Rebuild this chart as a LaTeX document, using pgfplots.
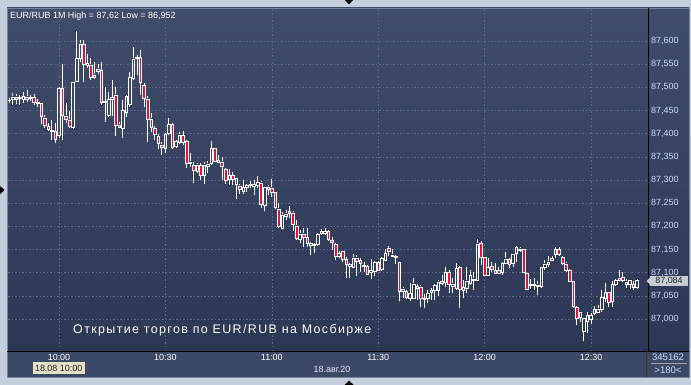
\documentclass[border=0pt]{standalone}
\usepackage{fontspec}
\setmainfont{Liberation Sans}
\usepackage{pgfplots}
\pgfplotsset{compat=1.18}
\usepackage{pgfplotstable}
\definecolor{framec}{RGB}{196,207,222}
\definecolor{bgtop}{RGB}{64,77,106}
\definecolor{bgbot}{RGB}{44,55,84}
\definecolor{stripc}{RGB}{60,73,101}
\definecolor{gridc}{RGB}{88,104,136}
\definecolor{cred}{RGB}{226,18,60}
\definecolor{ylab}{RGB}{200,220,248}
\definecolor{tagc}{RGB}{200,204,212}
\definecolor{datebox}{RGB}{228,224,196}
\definecolor{panelb}{RGB}{120,134,158}

\pgfplotstableread{
m o h l c
-14 87.470 87.476 87.466 87.472
-13 87.473 87.487 87.462 87.481
-12 87.481 87.485 87.463 87.473
-11 87.475 87.484 87.462 87.480
-10 87.473 87.489 87.466 87.482
-9 87.481 87.494 87.469 87.475
-8 87.475 87.484 87.471 87.480
-7 87.480 87.485 87.462 87.468
-6 87.465 87.475 87.458 87.469
-5 87.466 87.466 87.420 87.437
-4 87.435 87.440 87.413 87.417
-3 87.417 87.422 87.406 87.409
-2 87.404 87.430 87.386 87.408
-1 87.406 87.422 87.379 87.388
0 87.395 87.501 87.390 87.500
1 87.498 87.550 87.386 87.439
2 87.440 87.466 87.422 87.431
3 87.431 87.448 87.412 87.415
4 87.413 87.512 87.410 87.512
5 87.512 87.621 87.512 87.563
6 87.563 87.602 87.555 87.595
7 87.593 87.602 87.512 87.548
8 87.547 87.573 87.541 87.552
9 87.550 87.563 87.516 87.522
10 87.522 87.555 87.519 87.528
11 87.534 87.550 87.528 87.541
12 87.537 87.555 87.462 87.467
13 87.467 87.501 87.426 87.471
14 87.440 87.491 87.437 87.475
15 87.473 87.516 87.439 87.480
16 87.485 87.501 87.394 87.417
17 87.421 87.425 87.412 87.414
18 87.412 87.473 87.390 87.451
19 87.446 87.484 87.437 87.481
20 87.462 87.534 87.458 87.523
21 87.519 87.588 87.516 87.563
22 87.563 87.570 87.527 87.566
23 87.565 87.581 87.484 87.509
24 87.505 87.509 87.458 87.476
25 87.476 87.481 87.383 87.431
26 87.433 87.444 87.404 87.414
27 87.412 87.417 87.386 87.399
28 87.395 87.399 87.367 87.379
29 87.377 87.383 87.354 87.372
30 87.368 87.401 87.358 87.399
31 87.401 87.433 87.397 87.421
32 87.420 87.424 87.367 87.370
33 87.372 87.386 87.368 87.384
34 87.381 87.403 87.377 87.399
35 87.397 87.406 87.376 87.381
36 87.384 87.386 87.325 87.336
37 87.336 87.358 87.329 87.340
38 87.333 87.338 87.293 87.320
39 87.318 87.336 87.315 87.334
40 87.333 87.336 87.300 87.311
41 87.311 87.338 87.291 87.334
42 87.329 87.340 87.315 87.336
43 87.336 87.384 87.333 87.368
44 87.368 87.370 87.338 87.340
45 87.338 87.354 87.336 87.343
46 87.340 87.350 87.300 87.329
47 87.324 87.325 87.291 87.300
48 87.300 87.324 87.289 87.311
49 87.311 87.318 87.289 87.300
50 87.291 87.305 87.258 87.304
51 87.289 87.292 87.269 87.279
52 87.274 87.300 87.269 87.284
53 87.284 87.291 87.275 87.289
54 87.288 87.297 87.282 87.291
55 87.286 87.299 87.268 87.291
56 87.289 87.309 87.282 87.296
57 87.295 87.297 87.239 87.246
58 87.246 87.287 87.234 87.287
59 87.286 87.289 87.268 87.280
60 87.284 87.303 87.264 87.273
61 87.275 87.275 87.239 87.240
62 87.239 87.251 87.198 87.199
63 87.196 87.232 87.194 87.227
64 87.222 87.235 87.214 87.228
65 87.228 87.243 87.217 87.232
66 87.230 87.234 87.189 87.203
67 87.203 87.214 87.171 87.174
68 87.171 87.192 87.164 87.185
69 87.185 87.196 87.155 87.176
70 87.178 87.196 87.156 87.164
71 87.164 87.167 87.138 87.158
72 87.158 87.165 87.142 87.162
73 87.161 87.185 87.158 87.183
74 87.184 87.194 87.181 87.190
75 87.186 87.196 87.181 87.191
76 87.190 87.192 87.169 87.171
77 87.171 87.178 87.149 87.164
78 87.162 87.164 87.128 87.135
79 87.135 87.146 87.131 87.142
80 87.146 87.147 87.124 87.128
81 87.130 87.133 87.089 87.119
82 87.113 87.120 87.088 87.119
83 87.112 87.140 87.110 87.133
84 87.133 87.138 87.093 87.124
85 87.128 87.131 87.102 87.119
86 87.113 87.124 87.102 87.117
87 87.115 87.117 87.095 87.097
88 87.100 87.129 87.086 87.106
89 87.102 87.126 87.092 87.124
90 87.124 87.126 87.105 87.106
91 87.106 87.133 87.105 87.131
92 87.127 87.151 87.125 87.142
93 87.154 87.158 87.137 87.147
94 87.136 87.151 87.135 87.140
95 87.135 87.138 87.118 87.133
96 87.122 87.124 87.038 87.058
97 87.059 87.070 87.045 87.066
98 87.061 87.063 87.043 87.046
99 87.045 87.077 87.038 87.056
100 87.046 87.088 87.043 87.077
101 87.066 87.075 87.041 87.072
102 87.071 87.074 87.025 87.045
103 87.043 87.053 87.023 87.046
104 87.045 87.063 87.034 87.056
105 87.057 87.066 87.041 87.063
106 87.061 87.075 87.041 87.074
107 87.063 87.084 87.050 87.082
108 87.082 87.095 87.074 87.077
109 87.079 87.113 87.070 87.102
110 87.102 87.106 87.056 87.074
111 87.070 87.088 87.056 87.077
112 87.066 87.120 87.063 87.111
113 87.113 87.115 87.023 87.063
114 87.063 87.084 87.045 87.070
115 87.066 87.113 87.056 87.084
116 87.077 87.106 87.074 87.095
117 87.084 87.102 87.063 87.088
118 87.084 87.173 87.082 87.163
119 87.163 87.168 87.117 87.132
120 87.135 87.135 87.092 87.095
121 87.095 87.131 87.094 87.113
122 87.113 87.122 87.101 87.106
123 87.099 87.120 87.097 87.106
124 87.106 87.113 87.097 87.099
125 87.099 87.122 87.095 87.120
126 87.120 87.144 87.118 87.131
127 87.131 87.132 87.111 87.118
128 87.120 87.142 87.113 87.142
129 87.142 87.158 87.124 87.156
130 87.149 87.156 87.145 87.153
131 87.153 87.153 87.099 87.101
132 87.101 87.101 87.063 87.065
133 87.072 87.086 87.065 87.075
134 87.072 87.088 87.063 87.075
135 87.070 87.081 87.052 87.075
136 87.070 87.113 87.066 87.113
137 87.113 87.127 87.106 87.120
138 87.118 87.135 87.113 87.125
139 87.127 87.135 87.125 87.132
140 87.138 87.156 87.132 87.151
141 87.151 87.156 87.137 87.138
142 87.135 87.137 87.117 87.120
143 87.120 87.122 87.102 87.106
144 87.106 87.107 87.081 87.082
145 87.082 87.082 87.025 87.027
146 87.027 87.029 86.987 87.002
147 87.002 87.016 86.994 87.016
148 86.973 87.003 86.952 87.002
149 86.993 87.016 86.969 87.009
150 86.998 87.012 86.989 87.009
151 87.012 87.028 87.009 87.022
152 87.015 87.030 87.012 87.023
153 87.020 87.063 87.015 87.048
154 87.046 87.077 87.037 87.059
155 87.059 87.059 87.027 87.036
156 87.037 87.081 87.025 87.075
157 87.075 87.086 87.072 87.084
158 87.084 87.106 87.081 87.091
159 87.091 87.101 87.079 87.082
160 87.075 87.086 87.068 87.081
161 87.075 87.084 87.065 87.084
162 87.075 87.081 87.063 87.068
163 87.068 87.086 87.065 87.084
}\candles

\def\ppu{463.39}
\pgfdeclareplotmark{cup}{%
  \pgfpathrectangle{\pgfpoint{-1.3bp}{-0.5*\candh bp}}{\pgfpoint{2.6bp}{\candh bp}}%
  \pgfusepathqstroke}
\pgfdeclareplotmark{cdn}{%
  \pgfpathrectangle{\pgfpoint{-1.3bp}{-0.5*\candh bp}}{\pgfpoint{2.6bp}{\candh bp}}%
  \pgfusepathqfillstroke}

\begin{document}
\begin{tikzpicture}
\useasboundingbox (0,0) rectangle (691bp,385bp);
\fill[framec] (0,0) rectangle (691bp,385bp);
\shade[top color=bgtop, bottom color=bgbot] (7bp,34bp) rectangle (689bp,377bp);
\fill[stripc] (7bp,8bp) rectangle (689bp,34bp);
\draw[panelb, line width=0.8bp] (7bp,8bp) rectangle (689bp,377bp);
\begin{axis}[
  at={(8bp,34bp)}, anchor=south west,
  width=640.5bp, height=343bp, scale only axis,
  xmin=-14.38, xmax=166.2,
  ymin=86.931, ymax=87.6712,
  axis line style={draw=none},
  tick style={draw=none},
  major tick length=0pt,
  xtick={30,60,90,120,150},
  xticklabels={10:30,11:00,11:30,12:00,12:30},
  extra x ticks={0},
  extra x tick labels={10:00},
  extra x tick style={grid style={draw=white, line width=0.8bp, dash pattern=on 1.6bp off 1.4bp}},
  ytick={87,87.05,87.1,87.15,87.2,87.25,87.3,87.35,87.4,87.45,87.5,87.55,87.6},
  yticklabel pos=right,
  yticklabel={\pgfmathprintnumber[fixed,fixed zerofill,precision=3,use comma,1000 sep={},assume math mode=true]{\tick}},
  grid=major,
  major grid style={draw=gridc, line width=0.6bp, dash pattern=on 1.5bp off 2bp},
  tick label style={font=\fontsize{9}{10}\selectfont},
  yticklabel style={anchor=west, inner sep=0pt, xshift=2.5bp, text=ylab},
  xticklabel style={anchor=north, inner sep=0pt, yshift=-3.5bp, text=white},
]
% upper wicks
\addplot[draw=none, mark=none, forget plot,
  error bars/.cd, y dir=plus, y explicit, error mark=none,
  error bar style={draw=white, line width=1bp}]
  table[x=m, y expr={max(\thisrow{o},\thisrow{c})},
        y error plus expr={\thisrow{h}-max(\thisrow{o},\thisrow{c})}] \candles;
% lower wicks
\addplot[draw=none, mark=none, forget plot,
  error bars/.cd, y dir=plus, y explicit, error mark=none,
  error bar style={draw=white, line width=1bp}]
  table[x=m, y=l,
        y error plus expr={min(\thisrow{o},\thisrow{c})-\thisrow{l}}] \candles;
% bullish bodies (hollow)
\addplot[scatter, only marks, mark=cup,
  mark options={draw=white, line width=0.85bp},
  scatter/@pre marker code/.code={}, scatter/@post marker code/.code={},
  visualization depends on={max(abs(\thisrow{o}-\thisrow{c})*\ppu-0.8,0.3) \as \candh}]
  table[x=m, y expr={\thisrow{c}<\thisrow{o} ? nan : (\thisrow{o}+\thisrow{c})/2}] \candles;
% bearish bodies (red)
\addplot[scatter, only marks, mark=cdn,
  mark options={draw=white, fill=cred, line width=0.85bp},
  scatter/@pre marker code/.code={}, scatter/@post marker code/.code={},
  visualization depends on={max(abs(\thisrow{o}-\thisrow{c})*\ppu-0.8,0.3) \as \candh}]
  table[x=m, y expr={\thisrow{c}<\thisrow{o} ? (\thisrow{o}+\thisrow{c})/2 : nan}] \candles;
\end{axis}
\draw[black, line width=0.9bp] (7bp,34bp) -- (689bp,34bp);
\draw[black, line width=0.9bp] (648.5bp,34bp) -- (648.5bp,377bp);
\draw[black!80, line width=0.8bp] (646bp,8bp) -- (646bp,34bp);
% title
\node[anchor=base west, inner sep=0pt, text=white, font=\fontsize{9}{10}\selectfont] at (10bp,366.5bp) {EUR/RUB 1M High = 87,62 Low = 86,952};
% caption
\node[anchor=base west, inner sep=0pt, text=white, font=\fontsize{12.5}{14}\selectfont\addfontfeature{LetterSpace=11}] at (73bp,51bp) {Открытие торгов по EUR/RUB на Мосбирже};
% price tag
\fill[tagc] (650bp,98.5bp) rectangle (688bp,109.3bp);
\fill[tagc] (646.5bp,103.9bp) -- (650bp,107.6bp) -- (650bp,100.2bp) -- cycle;
\node[inner sep=0pt, text=black!85, font=\fontsize{9}{10}\selectfont] at (669bp,103.9bp) {87,084};
% bottom strip texts
\fill[datebox] (32.5bp,11bp) rectangle (85bp,22.5bp);
\node[inner sep=0pt, text=black!85, font=\fontsize{9}{10}\selectfont] at (58.7bp,16.7bp) {18.08 10:00};
\node[inner sep=0pt, text=white!90!blue, font=\fontsize{9}{10}\selectfont] at (332bp,15.5bp) {18.авг.20};
\node[inner sep=0pt, text=ylab, font=\fontsize{9.6}{11}\selectfont] at (668bp,27.8bp) {345162};
\draw[gray!70, line width=0.6bp] (651bp,21.8bp) -- (687bp,21.8bp);
\node[inner sep=0pt, text=ylab, font=\fontsize{9.6}{11}\selectfont] at (668bp,14.8bp) {>180<};
% frame triangles
\fill[black] (345bp,385bp) -- (353bp,385bp) -- (349bp,380.5bp) -- cycle;
\fill[black] (0bp,199bp) -- (0bp,191bp) -- (4.5bp,195bp) -- cycle;
\fill[black] (344.5bp,0bp) -- (353.5bp,0bp) -- (349bp,4.5bp) -- cycle;
\end{tikzpicture}
\end{document}
